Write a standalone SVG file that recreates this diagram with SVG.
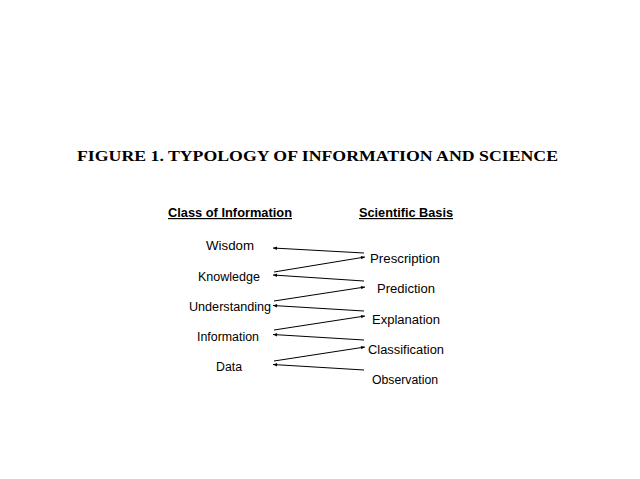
<svg xmlns="http://www.w3.org/2000/svg" width="640" height="479" viewBox="0 0 640 479">
<style>
.title{font-family:"Liberation Serif","Times New Roman",serif;font-weight:bold;font-size:15px;fill:#000}
.hdr{font-family:"Liberation Sans",Arial,sans-serif;font-weight:bold;font-size:12px;fill:#000;text-decoration:underline}
.lbl{font-family:"Liberation Sans",Arial,sans-serif;font-size:12.5px;fill:#000}
.conn{stroke:#000;stroke-width:1;fill:none}
</style>
<defs>
<marker id="ah" markerUnits="userSpaceOnUse" markerWidth="6" markerHeight="6" viewBox="0 0 6 6" refX="4.5" refY="3" orient="auto">
<path d="M0.5,1.3 L4.5,3 L0.5,4.7 Z" fill="#000"/>
</marker>
</defs>
<rect width="640" height="479" fill="#fff"/>
<text class="title" x="77" y="161" textLength="481" lengthAdjust="spacingAndGlyphs">FIGURE 1. TYPOLOGY OF INFORMATION AND SCIENCE</text>
<g id="headers">
<text class="hdr" x="168" y="217" textLength="124" lengthAdjust="spacingAndGlyphs">Class of Information</text>
<text class="hdr" x="359" y="217" textLength="94" lengthAdjust="spacingAndGlyphs">Scientific Basis</text>
</g>
<g id="wisdom"><text class="lbl" x="206" y="250" textLength="48" lengthAdjust="spacingAndGlyphs">Wisdom</text></g>
<g id="knowledge"><text class="lbl" x="198" y="281" textLength="62" lengthAdjust="spacingAndGlyphs">Knowledge</text></g>
<g id="understanding"><text class="lbl" x="189" y="311" textLength="82" lengthAdjust="spacingAndGlyphs">Understanding</text></g>
<g id="information"><text class="lbl" x="197" y="341" textLength="62" lengthAdjust="spacingAndGlyphs">Information</text></g>
<g id="data"><text class="lbl" x="216" y="371" textLength="26" lengthAdjust="spacingAndGlyphs">Data</text></g>
<g id="prescription"><text class="lbl" x="370" y="263" textLength="70" lengthAdjust="spacingAndGlyphs">Prescription</text></g>
<g id="prediction"><text class="lbl" x="377" y="293" textLength="58" lengthAdjust="spacingAndGlyphs">Prediction</text></g>
<g id="explanation"><text class="lbl" x="372" y="324" textLength="68" lengthAdjust="spacingAndGlyphs">Explanation</text></g>
<g id="classification"><text class="lbl" x="368" y="354" textLength="76" lengthAdjust="spacingAndGlyphs">Classification</text></g>
<g id="observation"><text class="lbl" x="372" y="384" textLength="66" lengthAdjust="spacingAndGlyphs">Observation</text></g>
<g id="connectors">
<path class="conn" d="M364,253 L273,248" marker-end="url(#ah)"/>
<path class="conn" d="M274,272 L365,257" marker-end="url(#ah)"/>
<path class="conn" d="M364,281 L273,275" marker-end="url(#ah)"/>
<path class="conn" d="M274,301 L365,287" marker-end="url(#ah)"/>
<path class="conn" d="M364,311 L273,305.5" marker-end="url(#ah)"/>
<path class="conn" d="M274,330 L365,316" marker-end="url(#ah)"/>
<path class="conn" d="M364,340 L273,334.5" marker-end="url(#ah)"/>
<path class="conn" d="M274,361 L365,347" marker-end="url(#ah)"/>
<path class="conn" d="M364,370 L273,364.5" marker-end="url(#ah)"/>
</g>
</svg>
